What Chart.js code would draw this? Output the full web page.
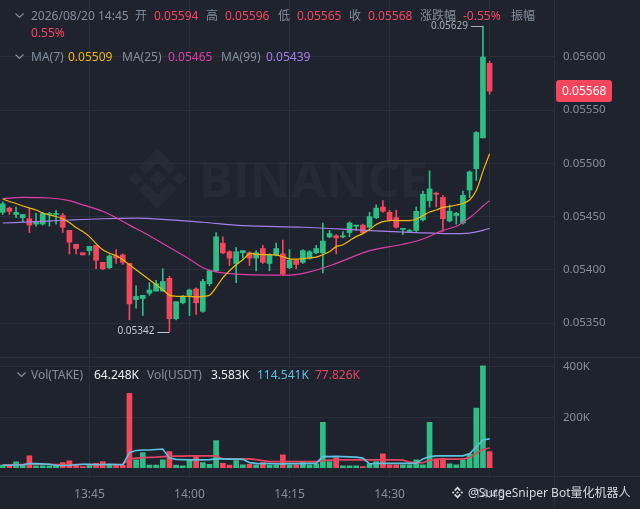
<!DOCTYPE html>
<html><head><meta charset="utf-8">
<script src="https://cdn.jsdelivr.net/npm/chart.js@4.4.1/dist/chart.umd.min.js"></script>
<style>
html,body{margin:0;padding:0;background:#1f232e;width:640px;height:509px;overflow:hidden;font-family:'Noto Sans','Noto Sans CJK SC',sans-serif;}
#wrap{position:relative;width:640px;height:509px;}
#pbox{position:absolute;left:0;top:0;width:640px;height:357px;}
#vbox{position:absolute;left:0;top:357px;width:640px;height:152px;}
.t{position:absolute;font-size:12px;line-height:14px;white-space:nowrap;color:#848e9c;transform:translateY(-50%);}
.r{color:#f6465d}.y{color:#f0b90b}.m{color:#dc3fa4}.p{color:#a47fe6}.w{color:#eaecef}.c{color:#5bc3e0}.rd{color:#e3455f}
.hl{position:absolute;left:0;width:640px;height:1px;background:#2b2f3a;}
.vl{position:absolute;top:0;left:554px;width:1px;height:509px;background:#2b2f3a;}
.chev{position:absolute;}
#foot{position:absolute;left:468px;top:492px;font-size:12px;color:#d6d9de;transform:translateY(-50%);white-space:nowrap;line-height:15px;}
</style></head>
<body><div id="wrap">
<div id="pbox"><canvas id="pc"></canvas></div>
<div id="vbox"><canvas id="vc"></canvas></div>
<div class="hl" style="top:357px"></div>
<div class="hl" style="top:476px"></div>
<div class="vl"></div>

<svg class="chev" style="left:15px;top:13px" width="9" height="6"><polyline points="0.5,0.5 4.5,4.5 8.5,0.5" fill="none" stroke="#848e9c" stroke-width="1.2"/></svg>
<div class="t" style="left:31px;top:16px">2026/08/20 14:45</div>
<div class="t" style="left:135px;top:16px">开</div>
<div class="t r" style="left:154px;top:16px">0.05594</div>
<div class="t" style="left:206px;top:16px">高</div>
<div class="t r" style="left:225px;top:16px">0.05596</div>
<div class="t" style="left:278px;top:16px">低</div>
<div class="t r" style="left:297px;top:16px">0.05565</div>
<div class="t" style="left:349px;top:16px">收</div>
<div class="t r" style="left:368px;top:16px">0.05568</div>
<div class="t" style="left:420px;top:16px">涨跌幅</div>
<div class="t r" style="left:463px;top:16px">-0.55%</div>
<div class="t" style="left:511px;top:16px">振幅</div>
<div class="t r" style="left:31px;top:33px">0.55%</div>

<svg class="chev" style="left:15px;top:54px" width="9" height="6"><polyline points="0.5,0.5 4.5,4.5 8.5,0.5" fill="none" stroke="#848e9c" stroke-width="1.2"/></svg>
<div class="t" style="left:31px;top:57px">MA(7)</div>
<div class="t y" style="left:68px;top:57px">0.05509</div>
<div class="t" style="left:122px;top:57px">MA(25)</div>
<div class="t m" style="left:168px;top:57px">0.05465</div>
<div class="t" style="left:221px;top:57px">MA(99)</div>
<div class="t p" style="left:266px;top:57px">0.05439</div>

<svg class="chev" style="left:17px;top:372px" width="9" height="6"><polyline points="0.5,0.5 4.5,4.5 8.5,0.5" fill="none" stroke="#848e9c" stroke-width="1.2"/></svg>
<div class="t" style="left:31px;top:375px">Vol(TAKE)</div>
<div class="t w" style="left:94px;top:375px">64.248K</div>
<div class="t" style="left:147px;top:375px">Vol(USDT)</div>
<div class="t w" style="left:211px;top:375px">3.583K</div>
<div class="t c" style="left:257px;top:375px">114.541K</div>
<div class="t rd" style="left:315px;top:375px">77.826K</div>

<svg style="position:absolute;left:451px;top:486px" width="13" height="13" viewBox="-15 -15 30 30"><g fill="#d6d9de"><path d="M0,-14 L8,-6 L5,-3 L0,-8 L-5,-3 L-8,-6Z"/><path d="M0,14 L8,6 L5,3 L0,8 L-5,3 L-8,6Z"/><path d="M0,-3 L3,0 L0,3 L-3,0Z"/><path d="M-10,-3 L-7,0 L-10,3 L-13,0Z"/><path d="M10,-3 L13,0 L10,3 L7,0Z"/></g></svg>
<div id="foot">@SurgeSniper Bot量化机器人</div>
</div>
<script>
// ---- data ----
const timeLabels = ['13:45','14:00','14:15','14:30','14:45'];
const timeIdx = [13,28,43,58,73];
const priceTicks = [0.0535,0.054,0.0545,0.055,0.0555,0.056];
const volTicks = [200000,400000];

const opens = [0.05454,0.05458,0.05452,0.05449,0.05448,0.05443,0.05443,0.05452,0.05452,0.05451,
0.05437,0.05424,0.05416,0.05418,0.05423,0.05407,0.05402,0.05413,0.05414,0.05406,
0.05372,0.05373,0.05378,0.05380,0.05380,0.05392,0.05354,0.05369,0.05376,0.05382,
0.05361,0.05387,0.05399,0.05425,0.05417,0.05406,0.05416,0.05416,0.05411,0.05420,
0.05406,0.05414,0.05415,0.05402,0.05409,0.05407,0.05411,0.05416,0.05416,0.05431,
0.05432,0.05431,0.05435,0.05441,0.05442,0.05440,0.05449,0.05459,0.05454,0.05449,
0.05438,0.05436,0.05437,0.05447,0.05465,0.05472,0.05468,0.05446,0.05451,0.05444,
0.05475,0.05495,0.05524,0.05594];
const highs = [0.05464,0.05459,0.05459,0.05452,0.05458,0.05453,0.05454,0.05454,0.05456,0.05453,
0.05437,0.05424,0.05416,0.05422,0.05423,0.05407,0.05414,0.05419,0.05415,0.05406,
0.05385,0.05376,0.05388,0.05390,0.05401,0.05394,0.05370,0.05376,0.05382,0.05383,
0.05391,0.05400,0.05435,0.05431,0.05418,0.05421,0.05418,0.05417,0.05418,0.05423,
0.05415,0.05425,0.05428,0.05419,0.05410,0.05419,0.05418,0.05423,0.05444,0.05437,
0.05433,0.05436,0.05445,0.05442,0.05443,0.05454,0.05461,0.05465,0.05456,0.05456,
0.05439,0.05438,0.05459,0.05474,0.05493,0.05473,0.05470,0.05461,0.05454,0.05474,
0.05493,0.05530,0.05629,0.05596];
const lows = [0.05452,0.05452,0.05449,0.05445,0.05435,0.05441,0.05442,0.05441,0.05443,0.05435,
0.05415,0.05415,0.05414,0.05414,0.05401,0.05400,0.05401,0.05406,0.05405,0.05353,
0.05364,0.05357,0.05376,0.05380,0.05380,0.05342,0.05353,0.05368,0.05357,0.05358,
0.05360,0.05385,0.05398,0.05415,0.05404,0.05388,0.05411,0.05404,0.05399,0.05406,
0.05399,0.05413,0.05395,0.05401,0.05401,0.05406,0.05410,0.05415,0.05397,0.05430,
0.05415,0.05430,0.05431,0.05437,0.05434,0.05439,0.05448,0.05454,0.05446,0.05439,
0.05433,0.05435,0.05436,0.05446,0.05459,0.05459,0.05436,0.05445,0.05443,0.05443,
0.05468,0.05484,0.05524,0.05565];
const closes = [0.05462,0.05455,0.05454,0.05452,0.05442,0.05445,0.05453,0.05453,0.05453,0.05440,
0.05426,0.05420,0.05414,0.05422,0.05409,0.05401,0.05413,0.05411,0.05407,0.05368,
0.05375,0.05376,0.05381,0.05387,0.05389,0.05354,0.05370,0.05375,0.05381,0.05369,
0.05389,0.05399,0.05431,0.05416,0.05411,0.05417,0.05418,0.05411,0.05416,0.05407,
0.05414,0.05420,0.05396,0.05409,0.05405,0.05418,0.05417,0.05420,0.05427,0.05434,
0.05430,0.05432,0.05444,0.05442,0.05435,0.05450,0.05458,0.05455,0.05447,0.05440,
0.05439,0.05437,0.05455,0.05471,0.05476,0.05471,0.05448,0.05455,0.05453,0.05470,
0.05492,0.05529,0.05600,0.05568];
const volumesK = [10,10,23,10,47,7,7,7,7,20,
27,10,4,9,17,24,9,9,9,295,
31,60,10,10,31,64,10,7,31,44,
20,13,108,17,10,28,11,13,11,20,
9,9,51,11,11,24,11,15,180,24,
40,7,7,7,4,15,24,55,11,11,
11,11,31,11,180,33,37,15,11,31,
55,237,404,64.248];
const ma7 = [0.054666,0.054642,0.054623,0.0546,0.054581,0.054562,0.054534,0.054515,0.054501,0.054477,
0.054444,0.054397,0.054359,0.054312,0.054246,0.054189,0.054156,0.054133,0.054095,0.054048,
0.054001,0.053954,0.053907,0.053859,0.053812,0.053761,0.053751,0.053751,0.053751,0.053746,
0.053751,0.05376,0.053835,0.053925,0.053991,0.054048,0.054095,0.054152,0.054147,0.054142,
0.054142,0.054138,0.054123,0.054102,0.0541,0.054105,0.054111,0.054119,0.054142,0.05417,
0.054218,0.054236,0.054274,0.054312,0.05434,0.054378,0.054425,0.054453,0.054463,0.054463,
0.054463,0.054463,0.054477,0.05451,0.054543,0.054562,0.054586,0.054595,0.054609,0.054623,
0.054656,0.054746,0.054925,0.05509];
const ma25Idx = [0,3,7,10,12,15,17,19,22,25,28,30,32,35,40,43,46,50,55,60,63,66,68,70,71,72,73];
const ma25Val = [0.05467,0.05468,0.054675,0.05465,0.05461,0.05455,0.05449,0.05442,0.05432,0.05421,0.0541,0.05402,0.05398,0.05396,0.05395,0.05395,0.05398,0.05406,0.05418,0.05424,0.05429,0.05437,0.05441,0.05449,0.05454,0.0546,0.05465];
const ma99Idx = [0,5,10,15,20,25,30,36,45,55,62,67,70,72,73];
const ma99Val = [0.05444,0.054453,0.054468,0.05448,0.054485,0.05447,0.054447,0.054416,0.0544,0.054369,0.05435,0.05434,0.054345,0.05437,0.05439];
const volMa5K = [10,10,11,12,16,16,15,14,9,9,
10,12,14,14,12,13,14,13,12,60,
68,70,70,72,74,38,33,32,31,31,
31,32,35,35,34,34,33,20,17,16,
16,15,15,16,16,16,17,17,45,44,
45,44,43,42,38,15,17,17,17,17,
17,17,18,35,44,47,47,47,47,47,
55,83,110,114.541];
const volMa10K = [12,12,13,13,14,14,14,14,13,13,
13,13,13,13,12,12,13,13,13,35,
38,40,41,42,44,45,46,46,47,47,
47,47,47,35,35,35,35,35,32,28,
24,24,24,24,24,24,24,24,28,30,
31,31,31,31,31,31,31,31,31,31,
30,22,19,20,30,34,34,34,34,34,
40,58,72,77.826];

// ---- styling ----
const UP='#2ebd85', DOWN='#f6465d', GRID='#2a2e39', TXT='#848e9c';
Chart.defaults.font.family = "'Noto Sans','Noto Sans CJK SC',sans-serif";
Chart.defaults.font.size = 12;
const idx = opens.map((_,i)=>i);
const candleColor = idx.map(i => closes[i] >= opens[i] ? UP : DOWN);
const X_MIN = -0.405, X_MAX = 82.655;
const P_MAX = 0.056 + 57/106400, P_MIN = 0.056 - 300/106400;
const V_MAX = 439300, V_MIN = -35700;

function xScale(showTicks, h){
  return {type:'linear', min:X_MIN, max:X_MAX, offset:false,
    afterBuildTicks: s => { s.ticks = timeIdx.map(v=>({value:v})); },
    ticks:{display:showTicks, autoSkip:false, maxRotation:0, color:TXT, font:{size:12}, padding:11,
      callback:(v,i)=>timeLabels[i]},
    grid:{color:GRID, drawTicks:false, offset:false}, border:{display:false},
    afterFit: s => { s.height = h; s.paddingLeft = 0; s.paddingRight = 0; }
  };
}

const wmPlugin = {
  id:'wm',
  beforeDraw(chart){
    const c = chart.ctx; c.save();
    c.fillStyle = 'rgba(255,255,255,0.035)';
    const cx=157.5, cy=178.5;
    const polys = [
      [[0,-30],[19,-11],[12,-4],[0,-16],[-12,-4],[-19,-11]],
      [[0,30],[19,11],[12,4],[0,16],[-12,4],[-19,11]],
      [[0,-8],[8,0],[0,8],[-8,0]],
      [[-22,-7],[-15,0],[-22,7],[-29,0]],
      [[22,-7],[29,0],[22,7],[15,0]]
    ];
    polys.forEach(p=>{c.beginPath(); p.forEach(([a,b],k)=> k? c.lineTo(cx+a,cy+b) : c.moveTo(cx+a,cy+b)); c.closePath(); c.fill();});
    c.font = "bold 48px 'Open Sans','Noto Sans',sans-serif";
    c.textAlign='left'; c.textBaseline='alphabetic';
    const w = c.measureText('BINANCE').width;
    c.translate(199, 196.5); c.scale(229/w, 1);
    c.fillText('BINANCE', 0, 0);
    c.restore();
  }
};

const annotPlugin = {
  id:'annot',
  afterDraw(chart){
    const {ctx, scales:{x, y}} = chart;
    let hi=0, lo=0;
    idx.forEach(i=>{ if(highs[i]>highs[hi]) hi=i; if(lows[i]<lows[lo]) lo=i; });
    ctx.save();
    ctx.font = "10px 'Noto Sans',sans-serif";
    ctx.textAlign='right'; ctx.textBaseline='middle';
    [[hi, highs[hi], '#a9afb8'], [lo, lows[lo], '#c3c8cf']].forEach(([i,v,col])=>{
      const px = x.getPixelForValue(i), py = y.getPixelForValue(v);
      ctx.fillStyle = col; ctx.strokeStyle = col; ctx.lineWidth = 1;
      ctx.fillText(v.toFixed(5), px-15, py);
      ctx.beginPath(); ctx.moveTo(px-12, Math.round(py)+0.5); ctx.lineTo(px, Math.round(py)+0.5); ctx.stroke();
    });
    const last = closes.length-1;
    const yl = y.getPixelForValue(closes[last]);
    ctx.fillStyle = DOWN;
    ctx.beginPath(); ctx.roundRect(556, yl-11, 56, 22, 3); ctx.fill();
    ctx.fillStyle = '#ffffff'; ctx.textAlign='left'; ctx.font="12px 'Noto Sans',sans-serif";
    ctx.fillText(closes[last].toFixed(5), 562, yl+0.5);
    ctx.restore();
  }
};

const common = {animation:false, responsive:true, maintainAspectRatio:false, events:[],
  layout:{padding:0}, plugins:{legend:{display:false}, tooltip:{enabled:false}}};

new Chart(document.getElementById('pc'), {
  type:'bar',
  data:{datasets:[
    {type:'line', data: idx.map(i=>({x:i,y:ma7[i]})), borderColor:'#f0b90b', borderWidth:1.2, pointRadius:0, tension:0.3, order:0},
    {type:'line', data: ma25Idx.map((k,j)=>({x:k,y:ma25Val[j]})), borderColor:'#dc3fa4', borderWidth:1.2, pointRadius:0, cubicInterpolationMode:'monotone', order:0},
    {type:'line', data: ma99Idx.map((k,j)=>({x:k,y:ma99Val[j]})), borderColor:'#a47fe6', borderWidth:1.2, pointRadius:0, cubicInterpolationMode:'monotone', order:0},
    {type:'bar', data: idx.map(i=>({x:i, y:[opens[i], closes[i]]})), backgroundColor:candleColor, barThickness:5, minBarLength:1, grouped:false, order:1},
    {type:'bar', data: idx.map(i=>({x:i, y:[lows[i], highs[i]]})), backgroundColor:candleColor, barThickness:1, grouped:false, order:2}
  ]},
  options:{...common,
    scales:{
      x: xScale(false, 0),
      y:{position:'right', min:P_MIN, max:P_MAX,
        afterBuildTicks: s => { s.ticks = priceTicks.map(v=>({value:v})); },
        ticks:{color:TXT, font:{size:11.5}, padding:9, callback:v=>v.toFixed(5)},
        grid:{color:GRID, drawTicks:false}, border:{display:false},
        afterFit: s => { s.width = 86; s.paddingTop = 0; s.paddingBottom = 0; }
      }
    }
  },
  plugins:[wmPlugin, annotPlugin]
});

new Chart(document.getElementById('vc'), {
  type:'bar',
  data:{datasets:[
    {type:'line', data: idx.map(i=>({x:i,y:volMa5K[i]*1000})), borderColor:'#5bc3e0', borderWidth:1.6, pointRadius:0, tension:0, order:0},
    {type:'line', data: idx.map(i=>({x:i,y:volMa10K[i]*1000})), borderColor:'#e3455f', borderWidth:1.6, pointRadius:0, tension:0, order:1},
    {type:'bar', data: idx.map(i=>({x:i,y:volumesK[i]*1000})), backgroundColor:candleColor, barThickness:5, grouped:false, order:2}
  ]},
  options:{...common,
    scales:{
      x: xScale(true, 32.3),
      y:{position:'right', min:V_MIN, max:V_MAX,
        afterBuildTicks: s => { s.ticks = volTicks.map(v=>({value:v})); },
        ticks:{color:TXT, font:{size:11.5}, padding:9, callback:v=>(v/1000)+'K'},
        grid:{color:GRID, drawTicks:false}, border:{display:false},
        afterFit: s => { s.width = 86; s.paddingTop = 0; s.paddingBottom = 0; }
      }
    }
  }
});
</script>
</body></html>
